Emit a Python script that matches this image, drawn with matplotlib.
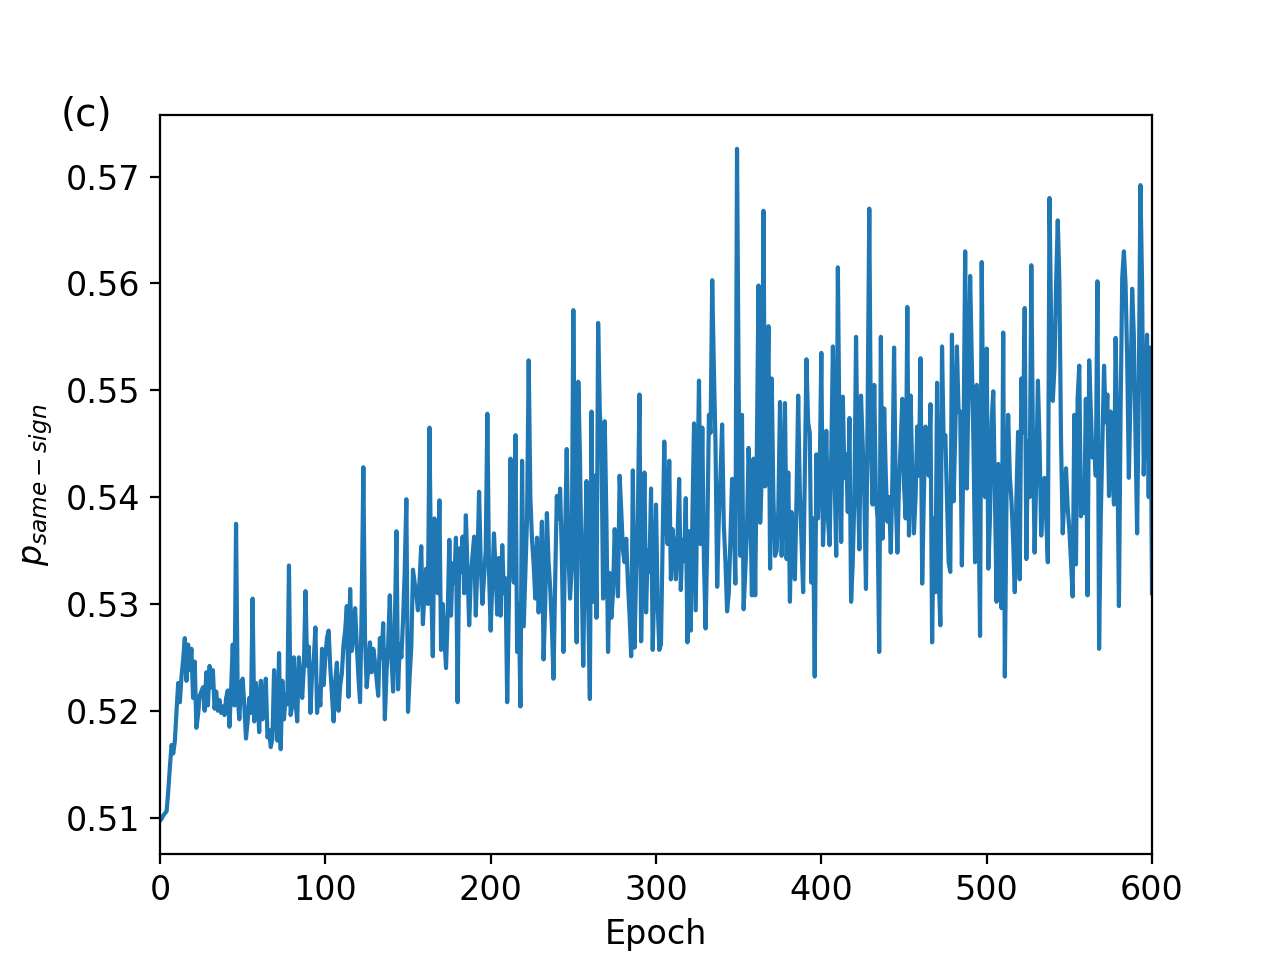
import numpy as np
import matplotlib
matplotlib.use("Agg")
import matplotlib.pyplot as plt

plt.rcParams['font.size'] = 12

# p_same-sign per epoch (epochs 0..600)
p_000 = [0.5097, 0.5099, 0.5102, 0.5104, 0.5106, 0.5125, 0.5148, 0.5168, 0.5160, 0.5172,
         0.5200, 0.5226, 0.5208, 0.5232, 0.5248, 0.5268, 0.5228, 0.5262, 0.5238, 0.5258,
         0.5212, 0.5246, 0.5184, 0.5196, 0.5214, 0.5218, 0.5222, 0.5200, 0.5236, 0.5205,
         0.5242, 0.5222, 0.5238, 0.5202, 0.5218, 0.5200, 0.5210, 0.5198, 0.5204, 0.5196,
         0.5212, 0.5219, 0.5185, 0.5220, 0.5262, 0.5205, 0.5375, 0.5212, 0.5192, 0.5226,
         0.5230, 0.5205, 0.5174, 0.5190, 0.5212, 0.5198, 0.5305, 0.5190, 0.5226, 0.5212,
         0.5180, 0.5228, 0.5192, 0.5210, 0.5230, 0.5175, 0.5182, 0.5166, 0.5174, 0.5238,
         0.5200, 0.5172, 0.5254, 0.5164, 0.5228, 0.5192, 0.5215, 0.5206, 0.5336, 0.5196,
         0.5205, 0.5250, 0.5208, 0.5190, 0.5250, 0.5232, 0.5212, 0.5240, 0.5312, 0.5242,
         0.5260, 0.5198, 0.5235, 0.5248, 0.5278, 0.5198, 0.5222, 0.5205, 0.5258, 0.5224]

p_100 = [0.5250, 0.5268, 0.5275, 0.5240, 0.5215, 0.5190, 0.5228, 0.5245, 0.5200, 0.5224,
         0.5235, 0.5262, 0.5275, 0.5298, 0.5213, 0.5314, 0.5256, 0.5270, 0.5296, 0.5262,
         0.5232, 0.5208, 0.5300, 0.5428, 0.5268, 0.5222, 0.5240, 0.5264, 0.5236, 0.5258,
         0.5246, 0.5230, 0.5214, 0.5268, 0.5250, 0.5282, 0.5192, 0.5236, 0.5262, 0.5308,
         0.5250, 0.5218, 0.5275, 0.5368, 0.5220, 0.5262, 0.5250, 0.5285, 0.5330, 0.5398,
         0.5199, 0.5232, 0.5260, 0.5332, 0.5320, 0.5310, 0.5294, 0.5322, 0.5354, 0.5281,
         0.5312, 0.5333, 0.5300, 0.5465, 0.5320, 0.5251, 0.5380, 0.5342, 0.5310, 0.5397,
         0.5257, 0.5300, 0.5270, 0.5240, 0.5290, 0.5360, 0.5289, 0.5338, 0.5320, 0.5362,
         0.5208, 0.5352, 0.5330, 0.5363, 0.5310, 0.5383, 0.5330, 0.5280, 0.5325, 0.5345,
         0.5363, 0.5289, 0.5340, 0.5405, 0.5338, 0.5300, 0.5325, 0.5350, 0.5478, 0.5330]

p_200 = [0.5275, 0.5320, 0.5366, 0.5330, 0.5290, 0.5343, 0.5289, 0.5355, 0.5310, 0.5324,
         0.5208, 0.5300, 0.5436, 0.5358, 0.5320, 0.5458, 0.5255, 0.5300, 0.5204, 0.5434,
         0.5279, 0.5330, 0.5380, 0.5528, 0.5400, 0.5360, 0.5337, 0.5305, 0.5362, 0.5292,
         0.5330, 0.5377, 0.5248, 0.5300, 0.5385, 0.5340, 0.5315, 0.5280, 0.5230, 0.5320,
         0.5401, 0.5380, 0.5408, 0.5350, 0.5255, 0.5360, 0.5445, 0.5350, 0.5305, 0.5333,
         0.5575, 0.5400, 0.5264, 0.5508, 0.5438, 0.5330, 0.5242, 0.5350, 0.5415, 0.5300,
         0.5211, 0.5480, 0.5302, 0.5420, 0.5287, 0.5563, 0.5480, 0.5448, 0.5305, 0.5471,
         0.5380, 0.5255, 0.5329, 0.5287, 0.5310, 0.5370, 0.5340, 0.5307, 0.5420, 0.5387,
         0.5350, 0.5339, 0.5361, 0.5320, 0.5290, 0.5251, 0.5425, 0.5259, 0.5330, 0.5380,
         0.5496, 0.5265, 0.5340, 0.5423, 0.5292, 0.5350, 0.5330, 0.5408, 0.5257, 0.5320]

p_300 = [0.5393, 0.5300, 0.5257, 0.5262, 0.5360, 0.5452, 0.5380, 0.5356, 0.5434, 0.5323,
         0.5370, 0.5352, 0.5323, 0.5360, 0.5417, 0.5313, 0.5360, 0.5340, 0.5399, 0.5264,
         0.5368, 0.5275, 0.5380, 0.5469, 0.5294, 0.5400, 0.5509, 0.5356, 0.5465, 0.5340,
         0.5277, 0.5360, 0.5477, 0.5460, 0.5603, 0.5520, 0.5449, 0.5316, 0.5380, 0.5420,
         0.5468, 0.5374, 0.5340, 0.5293, 0.5310, 0.5360, 0.5417, 0.5380, 0.5319, 0.5726,
         0.5500, 0.5345, 0.5477, 0.5295, 0.5330, 0.5368, 0.5446, 0.5400, 0.5308, 0.5436,
         0.5308, 0.5446, 0.5598, 0.5376, 0.5420, 0.5668, 0.5410, 0.5450, 0.5560, 0.5333,
         0.5511, 0.5400, 0.5345, 0.5350, 0.5389, 0.5489, 0.5345, 0.5400, 0.5488, 0.5342,
         0.5423, 0.5302, 0.5386, 0.5350, 0.5323, 0.5400, 0.5495, 0.5405, 0.5360, 0.5311,
         0.5420, 0.5529, 0.5470, 0.5460, 0.5320, 0.5380, 0.5232, 0.5440, 0.5380, 0.5421]

p_400 = [0.5535, 0.5355, 0.5400, 0.5462, 0.5380, 0.5355, 0.5440, 0.5541, 0.5420, 0.5345,
         0.5615, 0.5450, 0.5358, 0.5494, 0.5418, 0.5440, 0.5386, 0.5474, 0.5302, 0.5339,
         0.5400, 0.5550, 0.5420, 0.5351, 0.5495, 0.5450, 0.5400, 0.5314, 0.5480, 0.5670,
         0.5450, 0.5393, 0.5505, 0.5400, 0.5380, 0.5255, 0.5550, 0.5361, 0.5483, 0.5420,
         0.5377, 0.5400, 0.5348, 0.5420, 0.5540, 0.5400, 0.5348, 0.5414, 0.5450, 0.5492,
         0.5411, 0.5380, 0.5578, 0.5364, 0.5495, 0.5420, 0.5366, 0.5400, 0.5466, 0.5420,
         0.5530, 0.5319, 0.5400, 0.5466, 0.5436, 0.5420, 0.5487, 0.5264, 0.5380, 0.5311,
         0.5507, 0.5323, 0.5280, 0.5541, 0.5450, 0.5458, 0.5400, 0.5339, 0.5330, 0.5552,
         0.5396, 0.5460, 0.5541, 0.5480, 0.5480, 0.5336, 0.5450, 0.5630, 0.5408, 0.5500,
         0.5607, 0.5530, 0.5450, 0.5339, 0.5505, 0.5400, 0.5270, 0.5620, 0.5450, 0.5400]

p_500 = [0.5539, 0.5333, 0.5380, 0.5471, 0.5499, 0.5400, 0.5302, 0.5431, 0.5380, 0.5296,
         0.5554, 0.5232, 0.5400, 0.5477, 0.5420, 0.5396, 0.5360, 0.5311, 0.5400, 0.5461,
         0.5323, 0.5511, 0.5460, 0.5577, 0.5342, 0.5452, 0.5400, 0.5617, 0.5450, 0.5348,
         0.5420, 0.5509, 0.5450, 0.5364, 0.5400, 0.5418, 0.5380, 0.5339, 0.5680, 0.5560,
         0.5490, 0.5521, 0.5600, 0.5659, 0.5600, 0.5450, 0.5366, 0.5400, 0.5427, 0.5390,
         0.5370, 0.5340, 0.5307, 0.5477, 0.5337, 0.5492, 0.5523, 0.5382, 0.5400, 0.5385,
         0.5492, 0.5308, 0.5528, 0.5480, 0.5437, 0.5449, 0.5420, 0.5602, 0.5258, 0.5380,
         0.5450, 0.5523, 0.5470, 0.5496, 0.5401, 0.5480, 0.5430, 0.5393, 0.5549, 0.5450,
         0.5298, 0.5480, 0.5606, 0.5630, 0.5600, 0.5528, 0.5418, 0.5500, 0.5595, 0.5552,
         0.5460, 0.5366, 0.5500, 0.5692, 0.5600, 0.5421, 0.5480, 0.5552, 0.5400, 0.5540,
         0.5310]

p_same_sign = np.array(p_000 + p_100 + p_200 + p_300 + p_400 + p_500)
epochs = np.arange(len(p_same_sign))

fig, ax = plt.subplots(figsize=(6.4, 4.8), dpi=200)
ax.plot(epochs, p_same_sign)
ax.set_xlim(0, 600)
ax.set_xlabel("Epoch")
ax.set_ylabel("$p_{same-sign}$")
# panel tag sitting on the top-left corner
ax.text(-0.1, 1.0, "(c)", transform=ax.transAxes, fontsize=14,
        ha="left", va="center")

plt.savefig("out.png", dpi=200)
